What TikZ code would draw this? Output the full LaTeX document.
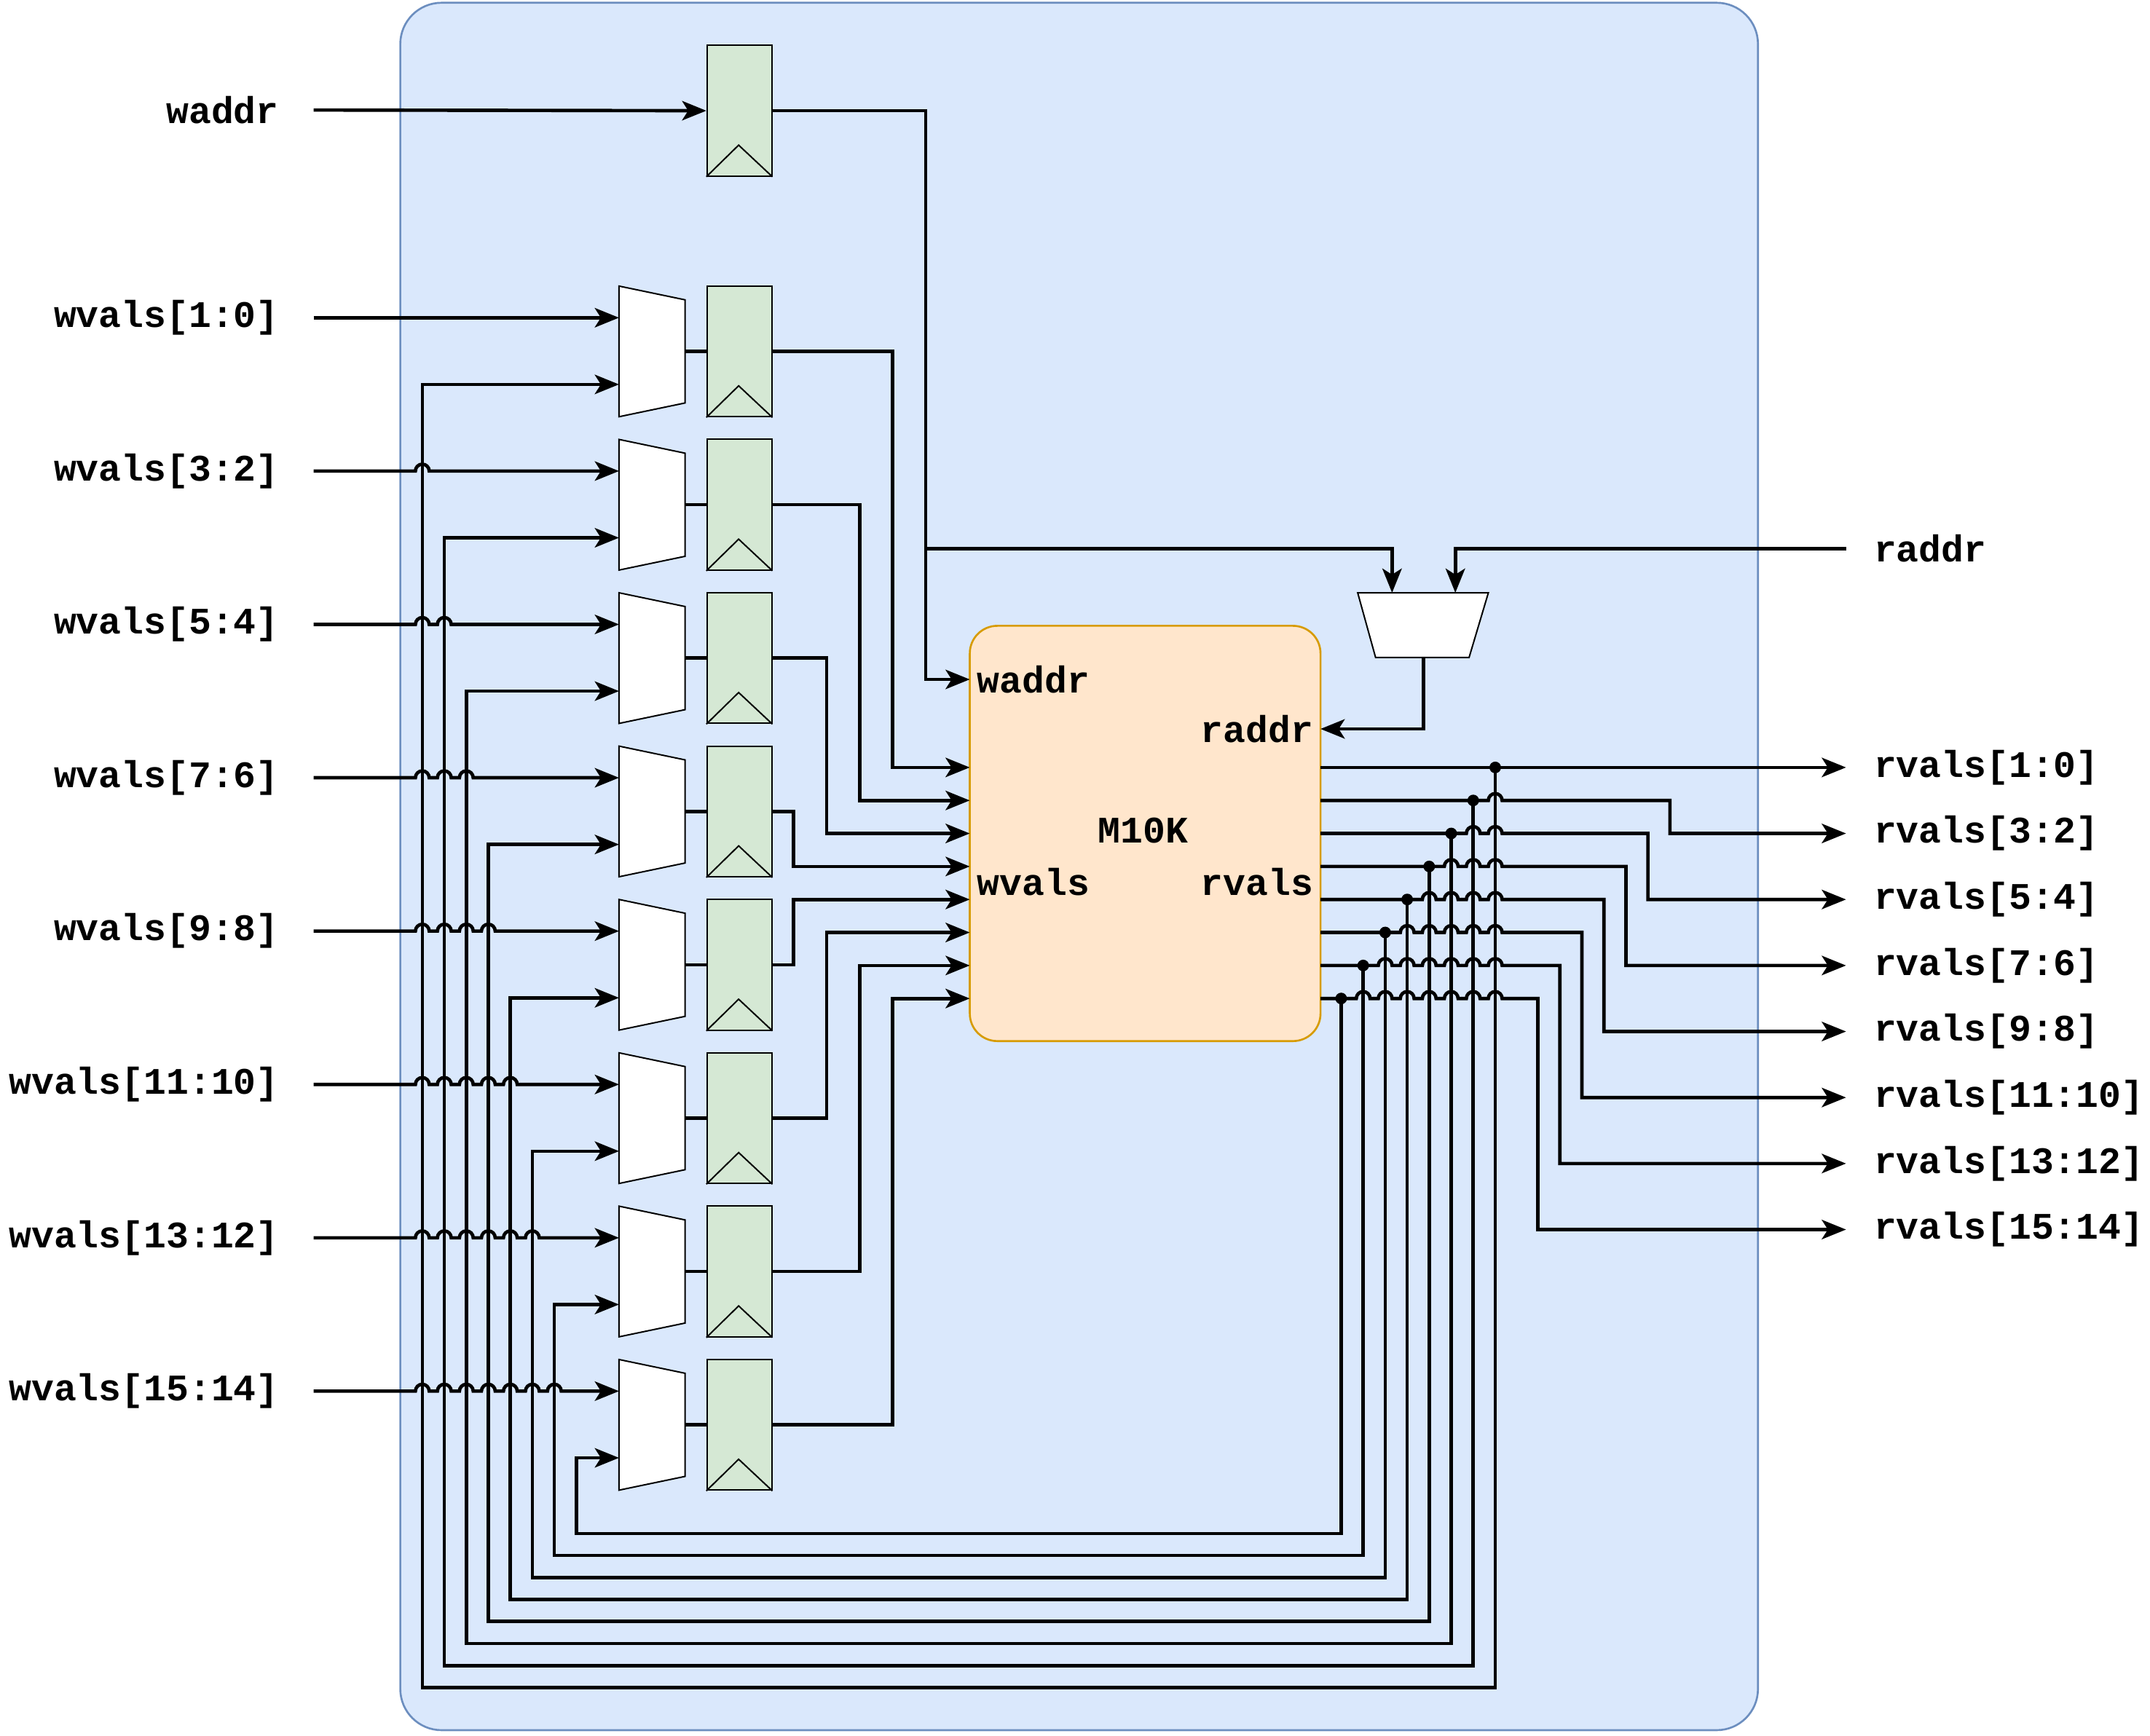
\documentclass[tikz,border=0pt]{standalone}
\usepackage{fontspec}
\newfontfamily\monobf{Liberation Mono}
\usetikzlibrary{arrows.meta}
\definecolor{bgfill}{HTML}{DAE8FC}
\definecolor{bgdraw}{HTML}{6C8EBF}
\definecolor{regfill}{HTML}{D5E8D4}
\definecolor{memfill}{HTML}{FFE6CC}
\definecolor{memdraw}{HTML}{D79B00}
\tikzstyle{wire}=[line width=1.4pt,line join=miter]
\tikzstyle{arr}=[wire,-{Stealth[length=10pt,width=8pt,inset=2.5pt]}]
\tikzstyle{lbl}=[font=\monobf\bfseries\fontsize{15.5}{18}\selectfont,inner sep=0pt]
\tikzstyle{reg}=[draw,fill=regfill,line width=0.6pt,minimum width=0.94cm,minimum height=1.9cm,inner sep=0pt]
\tikzstyle{muxst}=[draw,fill=white,line width=0.6pt]
\tikzstyle{mem}=[draw=memdraw,fill=memfill,line width=0.8pt,rounded corners=0.4cm,minimum width=5.1cm,minimum height=6.04cm]
\begin{document}
\begin{tikzpicture}[x=0.02cm,y=-0.02cm]
\useasboundingbox (0,0) rectangle (1563,1262);
% frame
\draw[draw=bgdraw,fill=bgfill,line width=0.8pt,rounded corners=0.6cm] (291,2) rectangle (1278,1258);
% memory block
\node[mem] (mem) at (832.5,606) {};
\node[lbl] (mlbl) at (831,604) {M10K};
\node[lbl,anchor=west] (pwaddr) at (710,494) {waddr};
\node[lbl,anchor=east] (praddr) at (955,530) {raddr};
\node[lbl,anchor=west] (pwvals) at (710,641) {wvals};
\node[lbl,anchor=east] (prvals) at (955,641) {rvals};
% address path
\node[lbl,anchor=east] (waddr) at (203,80) {waddr};
\node[reg] (areg) at (537.5,80.5) {};
\draw[line width=0.6pt] (areg.south west) -- ++(23.5,-23) -- (areg.south east);
\draw[arr] (228,80) -- (areg.west);
\draw[arr] (areg.east) -| (673,494) -- (705,494);
\draw[muxst] (987,431) -- (1082,431) -- (1068,478) -- (1000,478) -- cycle;
\coordinate (amux) at (1035,478);
\node[lbl,anchor=west] (raddr) at (1362,399) {raddr};
\draw[arr] (673,399) -| (1012,431);
\draw[arr] (1342,399) -| (1058,431);
\draw[arr] (amux) |- (960,530);
% write lanes
\foreach \i/\xr in {0/649,1/625,2/601,3/577,4/577,5/601,6/625,7/649}{
  \pgfmathsetmacro\ry{231+111.5*\i}
  \pgfmathtruncatemacro\hi{2*\i+1}
  \pgfmathtruncatemacro\lo{2*\i}
  \pgfmathtruncatemacro\n{\i-1}
  \node[lbl,anchor=east] (win\i) at (203,\ry) {wvals[\hi:\lo]};
  \draw[muxst] (450,\ry-23) -- (498,\ry-13) -- (498,\ry+62) -- (450,\ry+72) -- cycle;
  \node[reg] (reg\i) at (537.5,\ry+24.5) {};
  \draw[line width=0.6pt] (reg\i.south west) -- ++(23.5,-23) -- (reg\i.south east);
  \draw[wire] (498,\ry+24.5) -- (reg\i.west);
  \ifnum\i=0
    \draw[arr] (228,\ry) -- (450,\ry);
  \else
    \draw[arr] (228,\ry) \foreach \k in {0,...,\n}{ -- ({302+16*\k},\ry) arc[start angle=180,end angle=0,radius=0.1cm] } -- (450,\ry);
  \fi
  \draw[arr] (reg\i.east) -| (\xr,{558+24*\i}) -- (705,{558+24*\i});
}
% read lanes and feedback
\foreach \j in {0,...,7}{
  \pgfmathsetmacro\oy{558+24*\j}
  \pgfmathsetmacro\tx{1087-16*\j}
  \pgfmathsetmacro\ox{1230-16*\j}
  \pgfmathsetmacro\ly{558+48*\j}
  \pgfmathtruncatemacro\hi{2*\j+1}
  \pgfmathtruncatemacro\lo{2*\j}
  \pgfmathtruncatemacro\n{\j-1}
  \node[lbl,anchor=west] (rout\j) at (1362,\ly) {rvals[\hi:\lo]};
  \ifnum\j=0
    \draw[arr] (960,\oy) -- (1342,\oy);
  \else
    \draw[arr] (960,\oy) \foreach \k in {\n,...,0}{ -- ({1082-16*\k},\oy) arc[start angle=180,end angle=0,radius=0.1cm] } -- (\ox,\oy) -- (\ox,\ly) -- (1342,\ly);
  \fi
  \fill (\tx,\oy) circle (2.4pt);
  \draw[arr] (\tx,\oy) -- (\tx,{1227-16*\j}) -- ({307+16*\j},{1227-16*\j}) -- ({307+16*\j},{279.5+111.5*\j}) -- (450,{279.5+111.5*\j});
}
\end{tikzpicture}
\end{document}
